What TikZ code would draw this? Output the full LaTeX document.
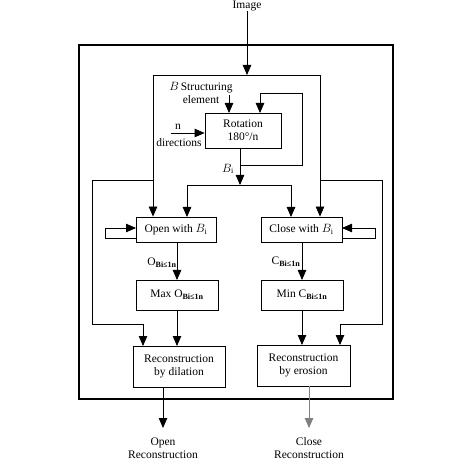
\documentclass[tikz,border=0pt]{standalone}
\usepackage{fontspec}
\setmainfont{Liberation Serif}
\usetikzlibrary{arrows.meta}
\begin{document}
\begin{tikzpicture}[x=1pt,y=-1pt,
  every node/.style={font=\fontsize{11.5}{12.5}\selectfont, inner sep=0pt},
  box/.style={draw, line width=0.8pt, align=center, text=black},
  lbl/.style={align=center},
  ln/.style={line width=0.8pt},
  arr/.style={line width=0.8pt, -{Triangle[length=10pt,width=8.5pt]}}
]
\useasboundingbox (0,0) rectangle (474,465);
% outer frame
\draw[line width=2.6pt] (79,45) rectangle (393,399);
% boxes
\node[box, minimum width=76pt, minimum height=35pt] (rot) at (243,130.5) {Rotation\\180°/n};
\node[box, minimum width=80pt, minimum height=25pt] (open) at (176,229.5) {Open with $B_{\mathrm{i}}$};
\node[box, minimum width=81pt, minimum height=25pt] (close) at (301.5,229.5) {Close with $B_{\mathrm{i}}$};
\node[box, minimum width=82pt, minimum height=30pt] (max) at (177,295) {Max O\textsubscript{\bfseries Bi≤1n}};
\node[box, minimum width=82pt, minimum height=30pt] (min) at (302,295) {Min C\textsubscript{\bfseries Bi≤1n}};
\node[box, minimum width=92pt, minimum height=41pt] (dil) at (179,366.5) {Reconstruction\\by dilation};
\node[box, minimum width=93pt, minimum height=41pt] (ero) at (303.5,365.5) {Reconstruction\\by erosion};
% text nodes
\node[lbl] (img) at (247,6) {Image};
\node[lbl] (struct) at (201,93) {$B$\,Structuring\\element};
\node[lbl] (nlab) at (178,127) {n};
\node[lbl] (dirlab) at (179,143) {directions};
\node[lbl] (bi) at (228,169) {$B_{\mathrm{i}}$};
\node[lbl] (olab) at (162,263) {O\textsubscript{\bfseries Bi≤1n}};
\node[lbl] (clab) at (286,262) {C\textsubscript{\bfseries Bi≤1n}};
\node[lbl] (out1) at (163,448) {Open\\Reconstruction};
\node[lbl] (out2) at (309,448) {Close\\Reconstruction};
% coordinates
\coordinate (top) at (247,75);
\coordinate (tl) at (153,75);
\coordinate (tr) at (320,75);
\coordinate (split) at (240,185);
\coordinate (nstart) at (171,133);
% image distribution
\draw[arr] (img.south) -- (top);
\draw[ln] (tl) -- (tr);
\draw[arr] (tl) -- (tl |- open.north);
\draw[arr] (tr) -- (tr |- close.north);
% structuring element into rotation
\draw[arr] (229,95) -- (229,113);
\draw[arr] (nstart) -- (nstart -| rot.west);
% feedback loop of rotation
\draw[arr] (240,165) -- (302,165) -- (302,93) -- (260,93) -- (260,113);
% rotation output
\draw[arr] (240,148) -- (split);
\draw[ln] (187,185) -- (291,185);
\draw[arr] (187,185) -- (187,217);
\draw[arr] (291,185) -- (291,217);
% wide loops
\draw[arr] (153,180) -- (92,180) -- (92,324) -- (143,324) -- (143,346);
\draw[arr] (320,180) -- (382,180) -- (382,324) -- (340,324) -- (340,345);
% self loops
\draw[arr] (136,238) -- (105,238) -- (105,228) -- (136,228);
\draw[arr] (342,238) -- (375,238) -- (375,228) -- (342,228);
% vertical chain
\draw[arr] (177,242) -- (177,280);
\draw[arr] (302,242) -- (302,280);
\draw[arr] (177,310) -- (177,346);
\draw[arr] (302,310) -- (302,345);
\draw[arr] (163,387) -- (163,428);
\draw[arr, draw=gray] (309,386) -- (309,428);
\end{tikzpicture}
\end{document}
